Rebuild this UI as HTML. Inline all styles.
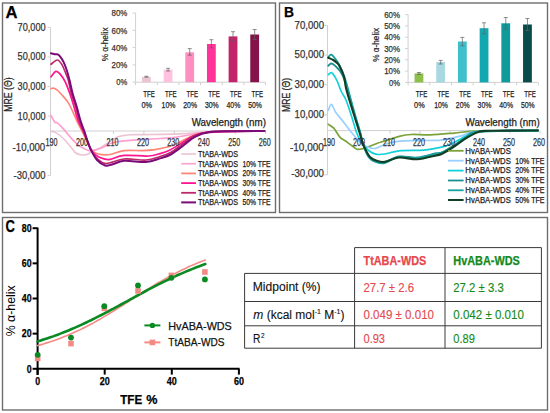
<!DOCTYPE html>
<html><head><meta charset="utf-8"><style>
html,body{margin:0;padding:0;background:#fff;width:550px;height:413px;overflow:hidden}
svg{display:block}
text{font-family:"Liberation Sans", sans-serif}
</style></head><body>
<svg width="550" height="413" viewBox="0 0 550 413">
<rect x="0" y="0" width="550" height="413" fill="#fff"/>
<rect x="2.50" y="3.00" width="273.00" height="209.50" fill="none" stroke="#6e6e6e" stroke-width="1.40"/>
<rect x="279.50" y="3.00" width="268.00" height="209.50" fill="none" stroke="#6e6e6e" stroke-width="1.40"/>
<rect x="2.50" y="217.50" width="545.00" height="192.50" fill="none" stroke="#6e6e6e" stroke-width="1.40"/>
<text x="5.50" y="17.50" font-size="16.00" text-anchor="start" fill="#000" stroke="#000" stroke-width="0.25" font-weight="bold" textLength="12.00" lengthAdjust="spacingAndGlyphs" >A</text>
<text x="284.00" y="16.50" font-size="15.00" text-anchor="start" fill="#000" stroke="#000" stroke-width="0.25" font-weight="bold" textLength="10.00" lengthAdjust="spacingAndGlyphs" >B</text>
<text x="5.40" y="232.30" font-size="16.50" text-anchor="start" fill="#000" stroke="#000" stroke-width="0.25" font-weight="bold" textLength="9.40" lengthAdjust="spacingAndGlyphs" >C</text>
<line x1="50.50" y1="27.40" x2="50.50" y2="175.40" stroke="#d0d0d0" stroke-width="1.00"/>
<line x1="47.50" y1="27.40" x2="50.50" y2="27.40" stroke="#d0d0d0" stroke-width="1.00"/>
<text x="45.60" y="30.65" font-size="10.80" text-anchor="end" fill="#333333" stroke="#333333" stroke-width="0.25" font-weight="normal" textLength="28.00" lengthAdjust="spacingAndGlyphs" >70,000</text>
<line x1="47.50" y1="57.00" x2="50.50" y2="57.00" stroke="#d0d0d0" stroke-width="1.00"/>
<text x="45.60" y="59.60" font-size="10.80" text-anchor="end" fill="#333333" stroke="#333333" stroke-width="0.25" font-weight="normal" textLength="28.00" lengthAdjust="spacingAndGlyphs" >50,000</text>
<line x1="47.50" y1="86.60" x2="50.50" y2="86.60" stroke="#d0d0d0" stroke-width="1.00"/>
<text x="45.60" y="90.30" font-size="10.80" text-anchor="end" fill="#333333" stroke="#333333" stroke-width="0.25" font-weight="normal" textLength="28.00" lengthAdjust="spacingAndGlyphs" >30,000</text>
<line x1="47.50" y1="116.20" x2="50.50" y2="116.20" stroke="#d0d0d0" stroke-width="1.00"/>
<text x="45.60" y="120.00" font-size="10.80" text-anchor="end" fill="#333333" stroke="#333333" stroke-width="0.25" font-weight="normal" textLength="28.00" lengthAdjust="spacingAndGlyphs" >10,000</text>
<line x1="47.50" y1="145.80" x2="50.50" y2="145.80" stroke="#d0d0d0" stroke-width="1.00"/>
<text x="45.20" y="150.70" font-size="10.80" text-anchor="end" fill="#333333" stroke="#333333" stroke-width="0.25" font-weight="normal" textLength="32.60" lengthAdjust="spacingAndGlyphs" >-10,000</text>
<line x1="47.50" y1="175.40" x2="50.50" y2="175.40" stroke="#d0d0d0" stroke-width="1.00"/>
<text x="45.60" y="178.70" font-size="10.80" text-anchor="end" fill="#333333" stroke="#333333" stroke-width="0.25" font-weight="normal" textLength="32.00" lengthAdjust="spacingAndGlyphs" >-30,000</text>
<line x1="50.50" y1="131.00" x2="265.00" y2="131.00" stroke="#d0d0d0" stroke-width="1.00"/>
<line x1="83.04" y1="131.00" x2="83.04" y2="134.00" stroke="#d0d0d0" stroke-width="1.00"/>
<line x1="113.48" y1="131.00" x2="113.48" y2="134.00" stroke="#d0d0d0" stroke-width="1.00"/>
<line x1="143.92" y1="131.00" x2="143.92" y2="134.00" stroke="#d0d0d0" stroke-width="1.00"/>
<line x1="174.36" y1="131.00" x2="174.36" y2="134.00" stroke="#d0d0d0" stroke-width="1.00"/>
<line x1="204.80" y1="131.00" x2="204.80" y2="134.00" stroke="#d0d0d0" stroke-width="1.00"/>
<line x1="235.24" y1="131.00" x2="235.24" y2="134.00" stroke="#d0d0d0" stroke-width="1.00"/>
<line x1="265.68" y1="131.00" x2="265.68" y2="134.00" stroke="#d0d0d0" stroke-width="1.00"/>
<path d="M51.00,131.20 C51.72,131.40 53.78,131.68 55.30,132.40 C56.82,133.12 58.28,133.98 60.10,135.50 C61.92,137.02 64.18,139.28 66.20,141.50 C68.22,143.72 70.58,146.88 72.20,148.80 C73.82,150.72 74.48,152.00 75.90,153.00 C77.32,154.00 79.00,154.50 80.70,154.80 C82.40,155.10 84.38,155.20 86.10,154.80 C87.82,154.40 89.38,153.20 91.00,152.40 C92.62,151.60 94.30,150.70 95.80,150.00 C97.30,149.30 98.30,149.17 100.00,148.20 C101.70,147.23 102.98,146.12 106.00,144.20 C109.02,142.28 114.07,138.27 118.10,136.70 C122.13,135.13 125.75,135.15 130.20,134.80 C134.65,134.45 136.63,134.75 144.80,134.60 C152.97,134.45 169.43,134.32 179.20,133.90 C188.97,133.48 194.93,132.53 203.40,132.10 C211.87,131.67 219.82,131.48 230.00,131.30 C240.18,131.12 258.75,131.05 264.50,131.00" fill="none" stroke="#ecc3d4" stroke-width="1.60" stroke-linejoin="round" stroke-linecap="round" />
<path d="M51.00,115.50 C51.62,116.60 53.58,120.83 54.70,122.10 C55.82,123.37 56.18,121.88 57.70,123.10 C59.22,124.32 61.58,126.93 63.80,129.40 C66.02,131.87 68.58,135.27 71.00,137.90 C73.42,140.53 76.07,143.38 78.30,145.20 C80.53,147.02 82.62,147.90 84.40,148.80 C86.18,149.70 87.50,150.33 89.00,150.60 C90.50,150.87 91.47,150.82 93.40,150.40 C95.33,149.98 98.67,148.78 100.60,148.10 C102.53,147.42 103.10,147.15 105.00,146.30 C106.90,145.45 108.80,143.90 112.00,143.00 C115.20,142.10 116.20,141.65 124.20,140.90 C132.20,140.15 151.85,139.07 160.00,138.50 C168.15,137.93 168.90,137.97 173.10,137.50 C177.30,137.03 180.15,136.50 185.20,135.70 C190.25,134.90 195.93,133.43 203.40,132.70 C210.87,131.97 219.82,131.58 230.00,131.30 C240.18,131.02 258.75,131.05 264.50,131.00" fill="none" stroke="#ff9fd0" stroke-width="1.70" stroke-linejoin="round" stroke-linecap="round" />
<path d="M51.00,88.80 C51.37,88.68 52.20,87.93 53.20,88.10 C54.20,88.27 55.65,88.78 57.00,89.80 C58.35,90.82 59.43,92.05 61.30,94.20 C63.17,96.35 66.05,99.27 68.20,102.70 C70.35,106.13 72.57,111.33 74.20,114.80 C75.83,118.27 76.68,120.77 78.00,123.50 C79.32,126.23 80.72,128.45 82.10,131.20 C83.48,133.95 84.78,136.95 86.30,140.00 C87.82,143.05 89.58,147.28 91.20,149.50 C92.82,151.72 94.20,152.45 96.00,153.30 C97.80,154.15 99.67,154.40 102.00,154.60 C104.33,154.80 106.30,155.17 110.00,154.50 C113.70,153.83 118.82,151.25 124.20,150.60 C129.58,149.95 137.17,150.77 142.30,150.60 C147.43,150.43 150.47,150.27 155.00,149.60 C159.53,148.93 165.47,147.80 169.50,146.60 C173.53,145.40 175.57,144.12 179.20,142.40 C182.83,140.68 187.27,137.92 191.30,136.30 C195.33,134.68 196.95,133.53 203.40,132.70 C209.85,131.87 219.82,131.58 230.00,131.30 C240.18,131.02 258.75,131.05 264.50,131.00" fill="none" stroke="#ff8577" stroke-width="1.60" stroke-linejoin="round" stroke-linecap="round" />
<path d="M51.00,76.80 C51.82,75.90 54.38,71.85 55.90,71.40 C57.42,70.95 58.58,72.43 60.10,74.10 C61.62,75.77 63.38,78.17 65.00,81.40 C66.62,84.63 68.33,89.40 69.80,93.50 C71.27,97.60 72.45,101.58 73.80,106.00 C75.15,110.42 76.35,115.80 77.90,120.00 C79.45,124.20 81.62,127.87 83.10,131.20 C84.58,134.53 85.45,136.82 86.80,140.00 C88.15,143.18 89.50,147.63 91.20,150.30 C92.90,152.97 94.87,154.58 97.00,156.00 C99.13,157.42 101.83,158.23 104.00,158.80 C106.17,159.37 106.63,159.97 110.00,159.40 C113.37,158.83 117.80,155.97 124.20,155.40 C130.60,154.83 142.43,156.30 148.40,156.00 C154.37,155.70 156.48,154.57 160.00,153.60 C163.52,152.63 165.90,151.97 169.50,150.20 C173.10,148.43 177.57,145.42 181.60,143.00 C185.63,140.58 189.67,137.42 193.70,135.70 C197.73,133.98 199.75,133.43 205.80,132.70 C211.85,131.97 220.22,131.58 230.00,131.30 C239.78,131.02 258.75,131.05 264.50,131.00" fill="none" stroke="#ff1491" stroke-width="1.75" stroke-linejoin="round" stroke-linecap="round" />
<path d="M51.00,64.30 C52.05,63.58 55.48,59.95 57.30,60.00 C59.12,60.05 60.48,62.35 61.90,64.60 C63.32,66.85 64.73,70.93 65.80,73.50 C66.87,76.07 67.40,76.75 68.30,80.00 C69.20,83.25 70.00,88.67 71.20,93.00 C72.40,97.33 74.17,101.50 75.50,106.00 C76.83,110.50 77.82,115.80 79.20,120.00 C80.58,124.20 82.52,127.87 83.80,131.20 C85.08,134.53 85.67,136.82 86.90,140.00 C88.13,143.18 89.52,147.22 91.20,150.30 C92.88,153.38 94.53,156.30 97.00,158.50 C99.47,160.70 101.47,163.42 106.00,163.50 C110.53,163.58 117.53,159.58 124.20,159.00 C130.87,158.42 140.03,160.42 146.00,160.00 C151.97,159.58 155.88,157.75 160.00,156.50 C164.12,155.25 166.90,154.58 170.70,152.50 C174.50,150.42 178.77,146.83 182.80,144.00 C186.83,141.17 190.47,137.53 194.90,135.50 C199.33,133.47 203.55,132.50 209.40,131.80 C215.25,131.10 220.82,131.43 230.00,131.30 C239.18,131.17 258.75,131.05 264.50,131.00" fill="none" stroke="#c0286a" stroke-width="1.70" stroke-linejoin="round" stroke-linecap="round" />
<path d="M51.00,53.30 C51.67,53.45 53.88,54.02 55.00,54.20 C56.12,54.38 56.80,53.95 57.70,54.40 C58.60,54.85 59.43,55.65 60.40,56.90 C61.37,58.15 62.47,59.77 63.50,61.90 C64.53,64.03 65.60,66.68 66.60,69.70 C67.60,72.72 68.50,76.03 69.50,80.00 C70.50,83.97 71.43,89.17 72.60,93.50 C73.77,97.83 75.22,101.58 76.50,106.00 C77.78,110.42 79.00,115.80 80.30,120.00 C81.60,124.20 83.15,127.87 84.30,131.20 C85.45,134.53 86.05,136.82 87.20,140.00 C88.35,143.18 89.57,146.97 91.20,150.30 C92.83,153.63 94.67,157.47 97.00,160.00 C99.33,162.53 102.70,164.75 105.20,165.50 C107.70,166.25 108.83,165.28 112.00,164.50 C115.17,163.72 118.53,161.22 124.20,160.80 C129.87,160.38 140.03,162.40 146.00,162.00 C151.97,161.60 155.88,159.65 160.00,158.40 C164.12,157.15 166.90,156.57 170.70,154.50 C174.50,152.43 178.77,148.93 182.80,146.00 C186.83,143.07 190.47,139.22 194.90,136.90 C199.33,134.58 203.55,133.05 209.40,132.10 C215.25,131.15 220.82,131.38 230.00,131.20 C239.18,131.02 258.75,131.03 264.50,131.00" fill="none" stroke="#7a0c7a" stroke-width="2.00" stroke-linejoin="round" stroke-linecap="round" />
<text x="51.60" y="146.10" font-size="10.60" text-anchor="middle" fill="#333333" stroke="#333333" stroke-width="0.25" font-weight="normal" textLength="12.00" lengthAdjust="spacingAndGlyphs" >190</text>
<text x="82.04" y="146.10" font-size="10.60" text-anchor="middle" fill="#333333" stroke="#333333" stroke-width="0.25" font-weight="normal" textLength="12.00" lengthAdjust="spacingAndGlyphs" >200</text>
<text x="112.48" y="146.10" font-size="10.60" text-anchor="middle" fill="#333333" stroke="#333333" stroke-width="0.25" font-weight="normal" textLength="12.00" lengthAdjust="spacingAndGlyphs" >210</text>
<text x="142.92" y="146.10" font-size="10.60" text-anchor="middle" fill="#333333" stroke="#333333" stroke-width="0.25" font-weight="normal" textLength="12.00" lengthAdjust="spacingAndGlyphs" >220</text>
<text x="173.36" y="146.10" font-size="10.60" text-anchor="middle" fill="#333333" stroke="#333333" stroke-width="0.25" font-weight="normal" textLength="12.00" lengthAdjust="spacingAndGlyphs" >230</text>
<text x="203.80" y="146.10" font-size="10.60" text-anchor="middle" fill="#333333" stroke="#333333" stroke-width="0.25" font-weight="normal" textLength="12.00" lengthAdjust="spacingAndGlyphs" >240</text>
<text x="234.24" y="146.10" font-size="10.60" text-anchor="middle" fill="#333333" stroke="#333333" stroke-width="0.25" font-weight="normal" textLength="12.00" lengthAdjust="spacingAndGlyphs" >250</text>
<text x="264.68" y="146.10" font-size="10.60" text-anchor="middle" fill="#333333" stroke="#333333" stroke-width="0.25" font-weight="normal" textLength="12.00" lengthAdjust="spacingAndGlyphs" >260</text>
<text x="191.70" y="126.40" font-size="10.20" text-anchor="start" fill="#222" stroke="#222" stroke-width="0.25" font-weight="normal" textLength="74.20" lengthAdjust="spacingAndGlyphs" >Wavelength (nm)</text>
<text transform="translate(12.40,94.60) rotate(-90)" font-size="10.6" text-anchor="middle" fill="#222" stroke="#222" stroke-width="0.25" textLength="34.50" lengthAdjust="spacingAndGlyphs">MRE (&#920;)</text>
<line x1="181.20" y1="154.00" x2="196.00" y2="154.00" stroke="#ecc3d4" stroke-width="1.60"/>
<text x="198.00" y="156.80" font-size="8.20" text-anchor="start" fill="#222" stroke="#222" stroke-width="0.25" font-weight="normal" textLength="40.00" lengthAdjust="spacingAndGlyphs" >TtABA-WDS</text>
<line x1="181.20" y1="163.70" x2="196.00" y2="163.70" stroke="#ff9fd0" stroke-width="1.60"/>
<text x="198.00" y="166.50" font-size="8.20" text-anchor="start" fill="#222" stroke="#222" stroke-width="0.25" font-weight="normal" textLength="40.00" lengthAdjust="spacingAndGlyphs" >TtABA-WDS</text>
<text x="242.40" y="166.50" font-size="8.20" text-anchor="start" fill="#222" stroke="#222" stroke-width="0.25" font-weight="normal" textLength="28.20" lengthAdjust="spacingAndGlyphs" >10% TFE</text>
<line x1="181.20" y1="173.40" x2="196.00" y2="173.40" stroke="#ff8577" stroke-width="1.80"/>
<text x="198.00" y="176.20" font-size="8.20" text-anchor="start" fill="#222" stroke="#222" stroke-width="0.25" font-weight="normal" textLength="40.00" lengthAdjust="spacingAndGlyphs" >TtABA-WDS</text>
<text x="242.40" y="176.20" font-size="8.20" text-anchor="start" fill="#222" stroke="#222" stroke-width="0.25" font-weight="normal" textLength="28.20" lengthAdjust="spacingAndGlyphs" >20% TFE</text>
<line x1="181.20" y1="183.10" x2="196.00" y2="183.10" stroke="#ff1491" stroke-width="1.80"/>
<text x="198.00" y="185.90" font-size="8.20" text-anchor="start" fill="#222" stroke="#222" stroke-width="0.25" font-weight="normal" textLength="40.00" lengthAdjust="spacingAndGlyphs" >TtABA-WDS</text>
<text x="242.40" y="185.90" font-size="8.20" text-anchor="start" fill="#222" stroke="#222" stroke-width="0.25" font-weight="normal" textLength="28.20" lengthAdjust="spacingAndGlyphs" >30% TFE</text>
<line x1="181.20" y1="192.80" x2="196.00" y2="192.80" stroke="#c0286a" stroke-width="1.80"/>
<text x="198.00" y="195.60" font-size="8.20" text-anchor="start" fill="#222" stroke="#222" stroke-width="0.25" font-weight="normal" textLength="40.00" lengthAdjust="spacingAndGlyphs" >TtABA-WDS</text>
<text x="242.40" y="195.60" font-size="8.20" text-anchor="start" fill="#222" stroke="#222" stroke-width="0.25" font-weight="normal" textLength="28.20" lengthAdjust="spacingAndGlyphs" >40% TFE</text>
<line x1="181.20" y1="202.40" x2="196.00" y2="202.40" stroke="#7a0c7a" stroke-width="2.00"/>
<text x="198.00" y="205.20" font-size="8.20" text-anchor="start" fill="#222" stroke="#222" stroke-width="0.25" font-weight="normal" textLength="40.00" lengthAdjust="spacingAndGlyphs" >TtABA-WDS</text>
<text x="242.40" y="205.20" font-size="8.20" text-anchor="start" fill="#222" stroke="#222" stroke-width="0.25" font-weight="normal" textLength="28.20" lengthAdjust="spacingAndGlyphs" >50% TFE</text>
<line x1="327.50" y1="25.40" x2="327.50" y2="174.80" stroke="#d0d0d0" stroke-width="1.00"/>
<line x1="324.50" y1="25.40" x2="327.50" y2="25.40" stroke="#d0d0d0" stroke-width="1.00"/>
<text x="324.00" y="28.80" font-size="10.80" text-anchor="end" fill="#333333" stroke="#333333" stroke-width="0.25" font-weight="normal" textLength="29.40" lengthAdjust="spacingAndGlyphs" >70,000</text>
<line x1="324.50" y1="55.10" x2="327.50" y2="55.10" stroke="#d0d0d0" stroke-width="1.00"/>
<text x="324.00" y="57.60" font-size="10.80" text-anchor="end" fill="#333333" stroke="#333333" stroke-width="0.25" font-weight="normal" textLength="29.40" lengthAdjust="spacingAndGlyphs" >50,000</text>
<line x1="324.50" y1="84.60" x2="327.50" y2="84.60" stroke="#d0d0d0" stroke-width="1.00"/>
<text x="324.00" y="87.90" font-size="10.80" text-anchor="end" fill="#333333" stroke="#333333" stroke-width="0.25" font-weight="normal" textLength="29.40" lengthAdjust="spacingAndGlyphs" >30,000</text>
<line x1="324.50" y1="115.00" x2="327.50" y2="115.00" stroke="#d0d0d0" stroke-width="1.00"/>
<text x="324.00" y="118.40" font-size="10.80" text-anchor="end" fill="#333333" stroke="#333333" stroke-width="0.25" font-weight="normal" textLength="29.40" lengthAdjust="spacingAndGlyphs" >10,000</text>
<line x1="324.50" y1="145.20" x2="327.50" y2="145.20" stroke="#d0d0d0" stroke-width="1.00"/>
<text x="323.80" y="150.50" font-size="10.80" text-anchor="end" fill="#333333" stroke="#333333" stroke-width="0.25" font-weight="normal" textLength="33.80" lengthAdjust="spacingAndGlyphs" >-10,000</text>
<line x1="324.50" y1="174.80" x2="327.50" y2="174.80" stroke="#d0d0d0" stroke-width="1.00"/>
<text x="324.00" y="176.90" font-size="10.80" text-anchor="end" fill="#333333" stroke="#333333" stroke-width="0.25" font-weight="normal" textLength="32.80" lengthAdjust="spacingAndGlyphs" >-30,000</text>
<line x1="327.50" y1="130.60" x2="538.00" y2="130.60" stroke="#d0d0d0" stroke-width="1.00"/>
<line x1="360.00" y1="130.60" x2="360.00" y2="133.60" stroke="#d0d0d0" stroke-width="1.00"/>
<line x1="390.00" y1="130.60" x2="390.00" y2="133.60" stroke="#d0d0d0" stroke-width="1.00"/>
<line x1="420.00" y1="130.60" x2="420.00" y2="133.60" stroke="#d0d0d0" stroke-width="1.00"/>
<line x1="450.00" y1="130.60" x2="450.00" y2="133.60" stroke="#d0d0d0" stroke-width="1.00"/>
<line x1="480.00" y1="130.60" x2="480.00" y2="133.60" stroke="#d0d0d0" stroke-width="1.00"/>
<line x1="510.00" y1="130.60" x2="510.00" y2="133.60" stroke="#d0d0d0" stroke-width="1.00"/>
<line x1="540.00" y1="130.60" x2="540.00" y2="133.60" stroke="#d0d0d0" stroke-width="1.00"/>
<path d="M328.30,124.30 C329.08,124.83 331.88,126.60 333.00,127.50 C334.12,128.40 333.82,128.07 335.00,129.70 C336.18,131.33 338.40,135.47 340.10,137.30 C341.80,139.13 343.22,139.28 345.20,140.70 C347.18,142.12 350.03,144.38 352.00,145.80 C353.97,147.22 355.32,148.70 357.00,149.20 C358.68,149.70 360.12,149.23 362.10,148.80 C364.08,148.37 366.35,147.53 368.90,146.60 C371.45,145.67 374.72,144.15 377.40,143.20 C380.08,142.25 381.37,142.05 385.00,140.90 C388.63,139.75 394.82,137.37 399.20,136.30 C403.58,135.23 406.17,134.75 411.30,134.50 C416.43,134.25 422.85,135.03 430.00,134.80 C437.15,134.57 446.13,133.75 454.20,133.10 C462.27,132.45 464.43,131.33 478.40,130.90 C492.37,130.47 528.07,130.57 538.00,130.50" fill="none" stroke="#7ba33a" stroke-width="1.70" stroke-linejoin="round" stroke-linecap="round" />
<path d="M328.30,110.40 C328.82,109.40 330.17,104.10 331.40,104.40 C332.63,104.70 333.68,109.27 335.70,112.20 C337.72,115.13 340.78,118.53 343.50,122.00 C346.22,125.47 349.18,129.60 352.00,133.00 C354.82,136.40 357.58,139.98 360.40,142.40 C363.22,144.82 366.35,146.52 368.90,147.50 C371.45,148.48 372.67,148.95 375.70,148.30 C378.73,147.65 383.18,144.78 387.10,143.60 C391.02,142.42 394.17,141.70 399.20,141.20 C404.23,140.70 411.33,140.73 417.30,140.60 C423.27,140.47 430.87,140.53 435.00,140.40 C439.13,140.27 437.90,140.50 442.10,139.80 C446.30,139.10 454.15,137.62 460.20,136.20 C466.25,134.78 465.43,132.25 478.40,131.30 C491.37,130.35 528.07,130.63 538.00,130.50" fill="none" stroke="#9ad0ff" stroke-width="1.70" stroke-linejoin="round" stroke-linecap="round" />
<path d="M328.30,74.70 C328.82,74.35 330.32,72.28 331.40,72.60 C332.48,72.92 333.70,74.87 334.80,76.60 C335.90,78.33 336.97,80.60 338.00,83.00 C339.03,85.40 339.67,88.17 341.00,91.00 C342.33,93.83 344.25,95.83 346.00,100.00 C347.75,104.17 349.83,110.83 351.50,116.00 C353.17,121.17 354.67,127.17 356.00,131.00 C357.33,134.83 358.33,136.75 359.50,139.00 C360.67,141.25 361.43,142.53 363.00,144.50 C364.57,146.47 366.78,149.18 368.90,150.80 C371.02,152.42 373.02,153.67 375.70,154.20 C378.38,154.73 381.08,154.57 385.00,154.00 C388.92,153.43 392.80,151.43 399.20,150.80 C405.60,150.17 417.43,150.60 423.40,150.20 C429.37,149.80 430.88,149.23 435.00,148.40 C439.12,147.57 443.90,146.73 448.10,145.20 C452.30,143.67 456.17,141.22 460.20,139.20 C464.23,137.18 467.33,134.47 472.30,133.10 C477.27,131.73 479.05,131.43 490.00,131.00 C500.95,130.57 530.00,130.58 538.00,130.50" fill="none" stroke="#10d0d8" stroke-width="1.70" stroke-linejoin="round" stroke-linecap="round" />
<path d="M328.30,65.80 C328.82,65.42 330.18,63.43 331.40,63.50 C332.62,63.57 334.17,64.95 335.60,66.20 C337.03,67.45 338.77,69.32 340.00,71.00 C341.23,72.68 341.83,73.47 343.00,76.30 C344.17,79.13 345.75,84.05 347.00,88.00 C348.25,91.95 349.08,95.00 350.50,100.00 C351.92,105.00 353.88,112.50 355.50,118.00 C357.12,123.50 358.95,128.67 360.20,133.00 C361.45,137.33 361.62,140.08 363.00,144.00 C364.38,147.92 366.38,153.68 368.50,156.50 C370.62,159.32 373.00,159.98 375.70,160.90 C378.40,161.82 380.78,162.73 384.70,162.00 C388.62,161.27 393.77,157.25 399.20,156.50 C404.63,155.75 411.33,158.00 417.30,157.50 C423.27,157.00 430.87,154.37 435.00,153.50 C439.13,152.63 438.90,153.67 442.10,152.30 C445.30,150.93 450.17,147.80 454.20,145.30 C458.23,142.80 462.27,139.58 466.30,137.30 C470.33,135.02 466.45,132.73 478.40,131.60 C490.35,130.47 528.07,130.68 538.00,130.50" fill="none" stroke="#1a9090" stroke-width="1.80" stroke-linejoin="round" stroke-linecap="round" />
<path d="M328.30,57.30 C328.82,56.85 329.98,54.02 331.40,54.60 C332.82,55.18 335.45,58.98 336.80,60.80 C338.15,62.62 338.27,62.92 339.50,65.50 C340.73,68.08 342.82,72.55 344.20,76.30 C345.58,80.05 346.67,84.05 347.80,88.00 C348.93,91.95 349.63,95.00 351.00,100.00 C352.37,105.00 354.42,112.50 356.00,118.00 C357.58,123.50 359.33,128.67 360.50,133.00 C361.67,137.33 361.60,139.90 363.00,144.00 C364.40,148.10 366.78,154.62 368.90,157.60 C371.02,160.58 373.07,161.00 375.70,161.90 C378.33,162.80 380.78,163.83 384.70,163.00 C388.62,162.17 393.77,157.72 399.20,156.90 C404.63,156.08 411.33,158.60 417.30,158.10 C423.27,157.60 430.87,154.83 435.00,153.90 C439.13,152.97 438.90,153.90 442.10,152.50 C445.30,151.10 450.17,148.00 454.20,145.50 C458.23,143.00 462.27,139.80 466.30,137.50 C470.33,135.20 466.45,132.87 478.40,131.70 C490.35,130.53 528.07,130.70 538.00,130.50" fill="none" stroke="#17a0a0" stroke-width="1.80" stroke-linejoin="round" stroke-linecap="round" />
<path d="M328.30,57.70 C329.13,58.08 331.88,59.17 333.30,60.00 C334.72,60.83 335.77,61.70 336.80,62.70 C337.83,63.70 338.30,63.70 339.50,66.00 C340.70,68.30 342.92,72.83 344.00,76.50 C345.08,80.17 345.10,84.08 346.00,88.00 C346.90,91.92 347.90,95.00 349.40,100.00 C350.90,105.00 353.23,112.33 355.00,118.00 C356.77,123.67 358.67,129.67 360.00,134.00 C361.33,138.33 361.92,141.08 363.00,144.00 C364.08,146.92 365.23,149.23 366.50,151.50 C367.77,153.77 368.78,156.02 370.60,157.60 C372.42,159.18 375.05,160.28 377.40,161.00 C379.75,161.72 381.07,162.48 384.70,161.90 C388.33,161.32 393.77,157.93 399.20,157.50 C404.63,157.07 411.33,159.60 417.30,159.30 C423.27,159.00 430.87,156.63 435.00,155.70 C439.13,154.77 438.90,155.23 442.10,153.70 C445.30,152.17 450.17,149.12 454.20,146.50 C458.23,143.88 462.27,140.43 466.30,138.00 C470.33,135.57 474.45,133.10 478.40,131.90 C482.35,130.70 480.07,131.03 490.00,130.80 C499.93,130.57 530.00,130.55 538.00,130.50" fill="none" stroke="#123e25" stroke-width="2.10" stroke-linejoin="round" stroke-linecap="round" />
<text x="329.00" y="145.70" font-size="10.60" text-anchor="middle" fill="#333333" stroke="#333333" stroke-width="0.25" font-weight="normal" textLength="12.00" lengthAdjust="spacingAndGlyphs" >190</text>
<text x="359.00" y="145.70" font-size="10.60" text-anchor="middle" fill="#333333" stroke="#333333" stroke-width="0.25" font-weight="normal" textLength="12.00" lengthAdjust="spacingAndGlyphs" >200</text>
<text x="389.00" y="145.70" font-size="10.60" text-anchor="middle" fill="#333333" stroke="#333333" stroke-width="0.25" font-weight="normal" textLength="12.00" lengthAdjust="spacingAndGlyphs" >210</text>
<text x="419.00" y="145.70" font-size="10.60" text-anchor="middle" fill="#333333" stroke="#333333" stroke-width="0.25" font-weight="normal" textLength="12.00" lengthAdjust="spacingAndGlyphs" >220</text>
<text x="449.00" y="145.70" font-size="10.60" text-anchor="middle" fill="#333333" stroke="#333333" stroke-width="0.25" font-weight="normal" textLength="12.00" lengthAdjust="spacingAndGlyphs" >230</text>
<text x="479.00" y="145.70" font-size="10.60" text-anchor="middle" fill="#333333" stroke="#333333" stroke-width="0.25" font-weight="normal" textLength="12.00" lengthAdjust="spacingAndGlyphs" >240</text>
<text x="509.00" y="145.70" font-size="10.60" text-anchor="middle" fill="#333333" stroke="#333333" stroke-width="0.25" font-weight="normal" textLength="12.00" lengthAdjust="spacingAndGlyphs" >250</text>
<text x="539.00" y="145.70" font-size="10.60" text-anchor="middle" fill="#333333" stroke="#333333" stroke-width="0.25" font-weight="normal" textLength="12.00" lengthAdjust="spacingAndGlyphs" >260</text>
<text x="465.50" y="126.00" font-size="10.20" text-anchor="start" fill="#222" stroke="#222" stroke-width="0.25" font-weight="normal" textLength="74.20" lengthAdjust="spacingAndGlyphs" >Wavelength (nm)</text>
<text transform="translate(289.80,95.00) rotate(-90)" font-size="10.6" text-anchor="middle" fill="#222" stroke="#222" stroke-width="0.25" textLength="34.00" lengthAdjust="spacingAndGlyphs">MRE (&#920;)</text>
<line x1="448.00" y1="150.80" x2="463.60" y2="150.80" stroke="#7ba33a" stroke-width="1.80"/>
<text x="465.30" y="153.60" font-size="8.20" text-anchor="start" fill="#222" stroke="#222" stroke-width="0.25" font-weight="normal" textLength="45.50" lengthAdjust="spacingAndGlyphs" >HvABA-WDS</text>
<line x1="448.00" y1="160.70" x2="463.60" y2="160.70" stroke="#9ad0ff" stroke-width="1.80"/>
<text x="465.30" y="163.50" font-size="8.20" text-anchor="start" fill="#222" stroke="#222" stroke-width="0.25" font-weight="normal" textLength="45.50" lengthAdjust="spacingAndGlyphs" >HvABA-WDS</text>
<text x="515.20" y="163.50" font-size="8.20" text-anchor="start" fill="#222" stroke="#222" stroke-width="0.25" font-weight="normal" textLength="29.40" lengthAdjust="spacingAndGlyphs" >10% TFE</text>
<line x1="448.00" y1="170.60" x2="463.60" y2="170.60" stroke="#10d0d8" stroke-width="1.80"/>
<text x="465.30" y="173.40" font-size="8.20" text-anchor="start" fill="#222" stroke="#222" stroke-width="0.25" font-weight="normal" textLength="45.50" lengthAdjust="spacingAndGlyphs" >HvABA-WDS</text>
<text x="515.20" y="173.40" font-size="8.20" text-anchor="start" fill="#222" stroke="#222" stroke-width="0.25" font-weight="normal" textLength="29.40" lengthAdjust="spacingAndGlyphs" >20% TFE</text>
<line x1="448.00" y1="180.50" x2="463.60" y2="180.50" stroke="#1a9090" stroke-width="1.80"/>
<text x="465.30" y="183.30" font-size="8.20" text-anchor="start" fill="#222" stroke="#222" stroke-width="0.25" font-weight="normal" textLength="45.50" lengthAdjust="spacingAndGlyphs" >HvABA-WDS</text>
<text x="515.20" y="183.30" font-size="8.20" text-anchor="start" fill="#222" stroke="#222" stroke-width="0.25" font-weight="normal" textLength="29.40" lengthAdjust="spacingAndGlyphs" >30% TFE</text>
<line x1="448.00" y1="190.30" x2="463.60" y2="190.30" stroke="#17a0a0" stroke-width="1.80"/>
<text x="465.30" y="193.10" font-size="8.20" text-anchor="start" fill="#222" stroke="#222" stroke-width="0.25" font-weight="normal" textLength="45.50" lengthAdjust="spacingAndGlyphs" >HvABA-WDS</text>
<text x="515.20" y="193.10" font-size="8.20" text-anchor="start" fill="#222" stroke="#222" stroke-width="0.25" font-weight="normal" textLength="29.40" lengthAdjust="spacingAndGlyphs" >40% TFE</text>
<line x1="448.00" y1="200.00" x2="463.60" y2="200.00" stroke="#123e25" stroke-width="2.00"/>
<text x="465.30" y="202.80" font-size="8.20" text-anchor="start" fill="#222" stroke="#222" stroke-width="0.25" font-weight="normal" textLength="45.50" lengthAdjust="spacingAndGlyphs" >HvABA-WDS</text>
<text x="515.20" y="202.80" font-size="8.20" text-anchor="start" fill="#222" stroke="#222" stroke-width="0.25" font-weight="normal" textLength="29.40" lengthAdjust="spacingAndGlyphs" >50% TFE</text>
<line x1="135.60" y1="13.00" x2="135.60" y2="82.20" stroke="#d0d0d0" stroke-width="1.00"/>
<line x1="132.60" y1="82.20" x2="135.60" y2="82.20" stroke="#d0d0d0" stroke-width="1.00"/>
<text x="127.30" y="85.40" font-size="9.20" text-anchor="end" fill="#333333" stroke="#333333" stroke-width="0.25" font-weight="normal" textLength="11.00" lengthAdjust="spacingAndGlyphs" >0%</text>
<line x1="132.60" y1="64.90" x2="135.60" y2="64.90" stroke="#d0d0d0" stroke-width="1.00"/>
<text x="127.30" y="68.10" font-size="9.20" text-anchor="end" fill="#333333" stroke="#333333" stroke-width="0.25" font-weight="normal" textLength="15.80" lengthAdjust="spacingAndGlyphs" >20%</text>
<line x1="132.60" y1="47.60" x2="135.60" y2="47.60" stroke="#d0d0d0" stroke-width="1.00"/>
<text x="127.30" y="50.80" font-size="9.20" text-anchor="end" fill="#333333" stroke="#333333" stroke-width="0.25" font-weight="normal" textLength="15.80" lengthAdjust="spacingAndGlyphs" >40%</text>
<line x1="132.60" y1="30.30" x2="135.60" y2="30.30" stroke="#d0d0d0" stroke-width="1.00"/>
<text x="127.30" y="33.50" font-size="9.20" text-anchor="end" fill="#333333" stroke="#333333" stroke-width="0.25" font-weight="normal" textLength="15.80" lengthAdjust="spacingAndGlyphs" >60%</text>
<line x1="132.60" y1="13.00" x2="135.60" y2="13.00" stroke="#d0d0d0" stroke-width="1.00"/>
<text x="127.30" y="16.20" font-size="9.20" text-anchor="end" fill="#333333" stroke="#333333" stroke-width="0.25" font-weight="normal" textLength="15.80" lengthAdjust="spacingAndGlyphs" >80%</text>
<line x1="135.60" y1="82.20" x2="265.50" y2="82.20" stroke="#d0d0d0" stroke-width="1.00"/>
<line x1="135.60" y1="82.20" x2="135.60" y2="85.20" stroke="#d0d0d0" stroke-width="1.00"/>
<line x1="157.25" y1="82.20" x2="157.25" y2="85.20" stroke="#d0d0d0" stroke-width="1.00"/>
<line x1="178.90" y1="82.20" x2="178.90" y2="85.20" stroke="#d0d0d0" stroke-width="1.00"/>
<line x1="200.55" y1="82.20" x2="200.55" y2="85.20" stroke="#d0d0d0" stroke-width="1.00"/>
<line x1="222.20" y1="82.20" x2="222.20" y2="85.20" stroke="#d0d0d0" stroke-width="1.00"/>
<line x1="243.85" y1="82.20" x2="243.85" y2="85.20" stroke="#d0d0d0" stroke-width="1.00"/>
<line x1="265.50" y1="82.20" x2="265.50" y2="85.20" stroke="#d0d0d0" stroke-width="1.00"/>
<rect x="142.02" y="76.90" width="8.80" height="5.30" fill="#edc4d5" stroke="none" stroke-width="0.00"/>
<line x1="146.42" y1="76.30" x2="146.42" y2="77.20" stroke="#606060" stroke-width="0.70"/>
<line x1="144.42" y1="76.30" x2="148.42" y2="76.30" stroke="#606060" stroke-width="0.70"/>
<line x1="144.42" y1="77.20" x2="148.42" y2="77.20" stroke="#606060" stroke-width="0.70"/>
<text x="149.12" y="97.20" font-size="9.20" text-anchor="middle" fill="#222" stroke="#222" stroke-width="0.25" font-weight="normal" textLength="11.60" lengthAdjust="spacingAndGlyphs" >TFE</text>
<text x="146.82" y="108.10" font-size="9.20" text-anchor="middle" fill="#222" stroke="#222" stroke-width="0.25" font-weight="normal" textLength="10.60" lengthAdjust="spacingAndGlyphs" >0%</text>
<rect x="163.67" y="69.60" width="8.80" height="12.60" fill="#ffc2de" stroke="none" stroke-width="0.00"/>
<line x1="168.07" y1="68.30" x2="168.07" y2="71.00" stroke="#606060" stroke-width="0.70"/>
<line x1="166.07" y1="68.30" x2="170.07" y2="68.30" stroke="#606060" stroke-width="0.70"/>
<line x1="166.07" y1="71.00" x2="170.07" y2="71.00" stroke="#606060" stroke-width="0.70"/>
<text x="170.77" y="97.20" font-size="9.20" text-anchor="middle" fill="#222" stroke="#222" stroke-width="0.25" font-weight="normal" textLength="11.60" lengthAdjust="spacingAndGlyphs" >TFE</text>
<text x="168.47" y="108.10" font-size="9.20" text-anchor="middle" fill="#222" stroke="#222" stroke-width="0.25" font-weight="normal" textLength="13.80" lengthAdjust="spacingAndGlyphs" >10%</text>
<rect x="185.32" y="52.30" width="8.80" height="29.90" fill="#ff8fc0" stroke="none" stroke-width="0.00"/>
<line x1="189.72" y1="48.60" x2="189.72" y2="55.20" stroke="#606060" stroke-width="0.70"/>
<line x1="187.72" y1="48.60" x2="191.72" y2="48.60" stroke="#606060" stroke-width="0.70"/>
<line x1="187.72" y1="55.20" x2="191.72" y2="55.20" stroke="#606060" stroke-width="0.70"/>
<text x="192.42" y="97.20" font-size="9.20" text-anchor="middle" fill="#222" stroke="#222" stroke-width="0.25" font-weight="normal" textLength="11.60" lengthAdjust="spacingAndGlyphs" >TFE</text>
<text x="190.12" y="108.10" font-size="9.20" text-anchor="middle" fill="#222" stroke="#222" stroke-width="0.25" font-weight="normal" textLength="13.80" lengthAdjust="spacingAndGlyphs" >20%</text>
<rect x="206.97" y="44.00" width="8.80" height="38.20" fill="#ff3399" stroke="none" stroke-width="0.00"/>
<line x1="211.38" y1="39.70" x2="211.38" y2="47.90" stroke="#606060" stroke-width="0.70"/>
<line x1="209.38" y1="39.70" x2="213.38" y2="39.70" stroke="#606060" stroke-width="0.70"/>
<line x1="209.38" y1="47.90" x2="213.38" y2="47.90" stroke="#606060" stroke-width="0.70"/>
<text x="214.07" y="97.20" font-size="9.20" text-anchor="middle" fill="#222" stroke="#222" stroke-width="0.25" font-weight="normal" textLength="11.60" lengthAdjust="spacingAndGlyphs" >TFE</text>
<text x="211.78" y="108.10" font-size="9.20" text-anchor="middle" fill="#222" stroke="#222" stroke-width="0.25" font-weight="normal" textLength="13.80" lengthAdjust="spacingAndGlyphs" >30%</text>
<rect x="228.62" y="36.40" width="8.80" height="45.80" fill="#c2246a" stroke="none" stroke-width="0.00"/>
<line x1="233.02" y1="31.70" x2="233.02" y2="40.90" stroke="#606060" stroke-width="0.70"/>
<line x1="231.02" y1="31.70" x2="235.02" y2="31.70" stroke="#606060" stroke-width="0.70"/>
<line x1="231.02" y1="40.90" x2="235.02" y2="40.90" stroke="#606060" stroke-width="0.70"/>
<text x="235.72" y="97.20" font-size="9.20" text-anchor="middle" fill="#222" stroke="#222" stroke-width="0.25" font-weight="normal" textLength="11.60" lengthAdjust="spacingAndGlyphs" >TFE</text>
<text x="233.42" y="108.10" font-size="9.20" text-anchor="middle" fill="#222" stroke="#222" stroke-width="0.25" font-weight="normal" textLength="13.80" lengthAdjust="spacingAndGlyphs" >40%</text>
<rect x="250.27" y="34.50" width="8.80" height="47.70" fill="#84134a" stroke="none" stroke-width="0.00"/>
<line x1="254.67" y1="29.50" x2="254.67" y2="39.60" stroke="#606060" stroke-width="0.70"/>
<line x1="252.67" y1="29.50" x2="256.67" y2="29.50" stroke="#606060" stroke-width="0.70"/>
<line x1="252.67" y1="39.60" x2="256.67" y2="39.60" stroke="#606060" stroke-width="0.70"/>
<text x="257.38" y="97.20" font-size="9.20" text-anchor="middle" fill="#222" stroke="#222" stroke-width="0.25" font-weight="normal" textLength="11.60" lengthAdjust="spacingAndGlyphs" >TFE</text>
<text x="255.07" y="108.10" font-size="9.20" text-anchor="middle" fill="#222" stroke="#222" stroke-width="0.25" font-weight="normal" textLength="13.80" lengthAdjust="spacingAndGlyphs" >50%</text>
<text transform="translate(108.30,44.30) rotate(-90)" font-size="8.4" text-anchor="middle" fill="#222" stroke="#222" stroke-width="0.2" textLength="34.00" lengthAdjust="spacingAndGlyphs">% &#945;-helix</text>
<line x1="408.10" y1="14.60" x2="408.10" y2="82.40" stroke="#d0d0d0" stroke-width="1.00"/>
<line x1="405.10" y1="82.40" x2="408.10" y2="82.40" stroke="#d0d0d0" stroke-width="1.00"/>
<text x="400.00" y="85.60" font-size="9.20" text-anchor="end" fill="#333333" stroke="#333333" stroke-width="0.25" font-weight="normal" textLength="11.00" lengthAdjust="spacingAndGlyphs" >0%</text>
<line x1="405.10" y1="71.10" x2="408.10" y2="71.10" stroke="#d0d0d0" stroke-width="1.00"/>
<text x="400.00" y="74.30" font-size="9.20" text-anchor="end" fill="#333333" stroke="#333333" stroke-width="0.25" font-weight="normal" textLength="15.80" lengthAdjust="spacingAndGlyphs" >10%</text>
<line x1="405.10" y1="59.80" x2="408.10" y2="59.80" stroke="#d0d0d0" stroke-width="1.00"/>
<text x="400.00" y="63.00" font-size="9.20" text-anchor="end" fill="#333333" stroke="#333333" stroke-width="0.25" font-weight="normal" textLength="15.80" lengthAdjust="spacingAndGlyphs" >20%</text>
<line x1="405.10" y1="48.50" x2="408.10" y2="48.50" stroke="#d0d0d0" stroke-width="1.00"/>
<text x="400.00" y="51.70" font-size="9.20" text-anchor="end" fill="#333333" stroke="#333333" stroke-width="0.25" font-weight="normal" textLength="15.80" lengthAdjust="spacingAndGlyphs" >30%</text>
<line x1="405.10" y1="37.20" x2="408.10" y2="37.20" stroke="#d0d0d0" stroke-width="1.00"/>
<text x="400.00" y="40.40" font-size="9.20" text-anchor="end" fill="#333333" stroke="#333333" stroke-width="0.25" font-weight="normal" textLength="15.80" lengthAdjust="spacingAndGlyphs" >40%</text>
<line x1="405.10" y1="25.90" x2="408.10" y2="25.90" stroke="#d0d0d0" stroke-width="1.00"/>
<text x="400.00" y="29.10" font-size="9.20" text-anchor="end" fill="#333333" stroke="#333333" stroke-width="0.25" font-weight="normal" textLength="15.80" lengthAdjust="spacingAndGlyphs" >50%</text>
<line x1="405.10" y1="14.60" x2="408.10" y2="14.60" stroke="#d0d0d0" stroke-width="1.00"/>
<text x="400.00" y="17.80" font-size="9.20" text-anchor="end" fill="#333333" stroke="#333333" stroke-width="0.25" font-weight="normal" textLength="15.80" lengthAdjust="spacingAndGlyphs" >60%</text>
<line x1="408.10" y1="82.40" x2="538.30" y2="82.40" stroke="#d0d0d0" stroke-width="1.00"/>
<line x1="408.10" y1="82.40" x2="408.10" y2="85.40" stroke="#d0d0d0" stroke-width="1.00"/>
<line x1="429.80" y1="82.40" x2="429.80" y2="85.40" stroke="#d0d0d0" stroke-width="1.00"/>
<line x1="451.50" y1="82.40" x2="451.50" y2="85.40" stroke="#d0d0d0" stroke-width="1.00"/>
<line x1="473.20" y1="82.40" x2="473.20" y2="85.40" stroke="#d0d0d0" stroke-width="1.00"/>
<line x1="494.90" y1="82.40" x2="494.90" y2="85.40" stroke="#d0d0d0" stroke-width="1.00"/>
<line x1="516.60" y1="82.40" x2="516.60" y2="85.40" stroke="#d0d0d0" stroke-width="1.00"/>
<line x1="538.30" y1="82.40" x2="538.30" y2="85.40" stroke="#d0d0d0" stroke-width="1.00"/>
<rect x="414.55" y="73.40" width="8.80" height="9.00" fill="#8cc04a" stroke="none" stroke-width="0.00"/>
<line x1="418.95" y1="72.50" x2="418.95" y2="74.50" stroke="#606060" stroke-width="0.70"/>
<line x1="416.95" y1="72.50" x2="420.95" y2="72.50" stroke="#606060" stroke-width="0.70"/>
<line x1="416.95" y1="74.50" x2="420.95" y2="74.50" stroke="#606060" stroke-width="0.70"/>
<text x="421.65" y="97.40" font-size="9.20" text-anchor="middle" fill="#222" stroke="#222" stroke-width="0.25" font-weight="normal" textLength="11.60" lengthAdjust="spacingAndGlyphs" >TFE</text>
<text x="419.35" y="108.30" font-size="9.20" text-anchor="middle" fill="#222" stroke="#222" stroke-width="0.25" font-weight="normal" textLength="10.60" lengthAdjust="spacingAndGlyphs" >0%</text>
<rect x="436.25" y="62.00" width="8.80" height="20.40" fill="#a8d8e2" stroke="none" stroke-width="0.00"/>
<line x1="440.65" y1="60.40" x2="440.65" y2="64.00" stroke="#606060" stroke-width="0.70"/>
<line x1="438.65" y1="60.40" x2="442.65" y2="60.40" stroke="#606060" stroke-width="0.70"/>
<line x1="438.65" y1="64.00" x2="442.65" y2="64.00" stroke="#606060" stroke-width="0.70"/>
<text x="443.35" y="97.40" font-size="9.20" text-anchor="middle" fill="#222" stroke="#222" stroke-width="0.25" font-weight="normal" textLength="11.60" lengthAdjust="spacingAndGlyphs" >TFE</text>
<text x="441.05" y="108.30" font-size="9.20" text-anchor="middle" fill="#222" stroke="#222" stroke-width="0.25" font-weight="normal" textLength="13.80" lengthAdjust="spacingAndGlyphs" >10%</text>
<rect x="457.95" y="41.50" width="8.80" height="40.90" fill="#3fbfcc" stroke="none" stroke-width="0.00"/>
<line x1="462.35" y1="37.40" x2="462.35" y2="45.80" stroke="#606060" stroke-width="0.70"/>
<line x1="460.35" y1="37.40" x2="464.35" y2="37.40" stroke="#606060" stroke-width="0.70"/>
<line x1="460.35" y1="45.80" x2="464.35" y2="45.80" stroke="#606060" stroke-width="0.70"/>
<text x="465.05" y="97.40" font-size="9.20" text-anchor="middle" fill="#222" stroke="#222" stroke-width="0.25" font-weight="normal" textLength="11.60" lengthAdjust="spacingAndGlyphs" >TFE</text>
<text x="462.75" y="108.30" font-size="9.20" text-anchor="middle" fill="#222" stroke="#222" stroke-width="0.25" font-weight="normal" textLength="13.80" lengthAdjust="spacingAndGlyphs" >20%</text>
<rect x="479.65" y="28.20" width="8.80" height="54.20" fill="#13a8b0" stroke="none" stroke-width="0.00"/>
<line x1="484.05" y1="22.80" x2="484.05" y2="33.70" stroke="#606060" stroke-width="0.70"/>
<line x1="482.05" y1="22.80" x2="486.05" y2="22.80" stroke="#606060" stroke-width="0.70"/>
<line x1="482.05" y1="33.70" x2="486.05" y2="33.70" stroke="#606060" stroke-width="0.70"/>
<text x="486.75" y="97.40" font-size="9.20" text-anchor="middle" fill="#222" stroke="#222" stroke-width="0.25" font-weight="normal" textLength="11.60" lengthAdjust="spacingAndGlyphs" >TFE</text>
<text x="484.45" y="108.30" font-size="9.20" text-anchor="middle" fill="#222" stroke="#222" stroke-width="0.25" font-weight="normal" textLength="13.80" lengthAdjust="spacingAndGlyphs" >30%</text>
<rect x="501.35" y="23.30" width="8.80" height="59.10" fill="#109a9a" stroke="none" stroke-width="0.00"/>
<line x1="505.75" y1="17.50" x2="505.75" y2="29.00" stroke="#606060" stroke-width="0.70"/>
<line x1="503.75" y1="17.50" x2="507.75" y2="17.50" stroke="#606060" stroke-width="0.70"/>
<line x1="503.75" y1="29.00" x2="507.75" y2="29.00" stroke="#606060" stroke-width="0.70"/>
<text x="508.45" y="97.40" font-size="9.20" text-anchor="middle" fill="#222" stroke="#222" stroke-width="0.25" font-weight="normal" textLength="11.60" lengthAdjust="spacingAndGlyphs" >TFE</text>
<text x="506.15" y="108.30" font-size="9.20" text-anchor="middle" fill="#222" stroke="#222" stroke-width="0.25" font-weight="normal" textLength="13.80" lengthAdjust="spacingAndGlyphs" >40%</text>
<rect x="523.05" y="24.50" width="8.80" height="57.90" fill="#0a4a48" stroke="none" stroke-width="0.00"/>
<line x1="527.45" y1="18.50" x2="527.45" y2="30.50" stroke="#606060" stroke-width="0.70"/>
<line x1="525.45" y1="18.50" x2="529.45" y2="18.50" stroke="#606060" stroke-width="0.70"/>
<line x1="525.45" y1="30.50" x2="529.45" y2="30.50" stroke="#606060" stroke-width="0.70"/>
<text x="530.15" y="97.40" font-size="9.20" text-anchor="middle" fill="#222" stroke="#222" stroke-width="0.25" font-weight="normal" textLength="11.60" lengthAdjust="spacingAndGlyphs" >TFE</text>
<text x="527.85" y="108.30" font-size="9.20" text-anchor="middle" fill="#222" stroke="#222" stroke-width="0.25" font-weight="normal" textLength="13.80" lengthAdjust="spacingAndGlyphs" >50%</text>
<text transform="translate(379.40,44.80) rotate(-90)" font-size="8.4" text-anchor="middle" fill="#222" stroke="#222" stroke-width="0.2" textLength="34.00" lengthAdjust="spacingAndGlyphs">% &#945;-helix</text>
<line x1="37.60" y1="227.60" x2="37.60" y2="375.00" stroke="#000" stroke-width="2.00"/>
<line x1="36.60" y1="368.80" x2="239.50" y2="368.80" stroke="#000" stroke-width="2.00"/>
<line x1="32.60" y1="368.80" x2="37.60" y2="368.80" stroke="#000" stroke-width="2.00"/>
<text x="31.60" y="372.60" font-size="11.00" text-anchor="end" fill="#000" stroke="#000" stroke-width="0.25" font-weight="bold" textLength="4.90" lengthAdjust="spacingAndGlyphs" >0</text>
<line x1="32.60" y1="333.65" x2="37.60" y2="333.65" stroke="#000" stroke-width="2.00"/>
<text x="31.60" y="337.45" font-size="11.00" text-anchor="end" fill="#000" stroke="#000" stroke-width="0.25" font-weight="bold" textLength="9.80" lengthAdjust="spacingAndGlyphs" >20</text>
<line x1="32.60" y1="298.50" x2="37.60" y2="298.50" stroke="#000" stroke-width="2.00"/>
<text x="31.60" y="302.30" font-size="11.00" text-anchor="end" fill="#000" stroke="#000" stroke-width="0.25" font-weight="bold" textLength="9.80" lengthAdjust="spacingAndGlyphs" >40</text>
<line x1="32.60" y1="263.35" x2="37.60" y2="263.35" stroke="#000" stroke-width="2.00"/>
<text x="31.60" y="267.15" font-size="11.00" text-anchor="end" fill="#000" stroke="#000" stroke-width="0.25" font-weight="bold" textLength="9.80" lengthAdjust="spacingAndGlyphs" >60</text>
<line x1="32.60" y1="228.20" x2="37.60" y2="228.20" stroke="#000" stroke-width="2.00"/>
<text x="31.60" y="232.00" font-size="11.00" text-anchor="end" fill="#000" stroke="#000" stroke-width="0.25" font-weight="bold" textLength="9.80" lengthAdjust="spacingAndGlyphs" >80</text>
<line x1="37.60" y1="368.80" x2="37.60" y2="374.60" stroke="#000" stroke-width="2.00"/>
<text x="37.60" y="384.60" font-size="11.00" text-anchor="middle" fill="#000" stroke="#000" stroke-width="0.25" font-weight="bold" textLength="4.90" lengthAdjust="spacingAndGlyphs" >0</text>
<line x1="104.70" y1="368.80" x2="104.70" y2="374.60" stroke="#000" stroke-width="2.00"/>
<text x="104.70" y="384.60" font-size="11.00" text-anchor="middle" fill="#000" stroke="#000" stroke-width="0.25" font-weight="bold" textLength="10.00" lengthAdjust="spacingAndGlyphs" >20</text>
<line x1="171.80" y1="368.80" x2="171.80" y2="374.60" stroke="#000" stroke-width="2.00"/>
<text x="171.80" y="384.60" font-size="11.00" text-anchor="middle" fill="#000" stroke="#000" stroke-width="0.25" font-weight="bold" textLength="10.00" lengthAdjust="spacingAndGlyphs" >40</text>
<line x1="238.90" y1="368.80" x2="238.90" y2="374.60" stroke="#000" stroke-width="2.00"/>
<text x="238.90" y="384.60" font-size="11.00" text-anchor="middle" fill="#000" stroke="#000" stroke-width="0.25" font-weight="bold" textLength="10.00" lengthAdjust="spacingAndGlyphs" >60</text>
<text x="120.20" y="403.60" font-size="13.00" text-anchor="start" fill="#000" stroke="#000" stroke-width="0.25" font-weight="bold" textLength="22.00" lengthAdjust="spacingAndGlyphs" >TFE</text>
<text x="146.20" y="403.60" font-size="13.00" text-anchor="start" fill="#000" stroke="#000" stroke-width="0.25" font-weight="bold" textLength="11.20" lengthAdjust="spacingAndGlyphs" >%</text>
<text transform="translate(15.2,310.8) rotate(-90)" font-size="12" text-anchor="middle" fill="#000" textLength="51" lengthAdjust="spacingAndGlyphs">% &#945;-helix</text>
<path d="M37.60,345.56 C38.16,345.41 39.84,344.95 40.95,344.63 C42.07,344.32 43.19,343.99 44.31,343.65 C45.43,343.32 46.55,342.97 47.66,342.62 C48.78,342.27 49.90,341.90 51.02,341.53 C52.14,341.16 53.26,340.78 54.38,340.39 C55.49,340.00 56.61,339.60 57.73,339.19 C58.85,338.78 59.97,338.36 61.09,337.93 C62.20,337.50 63.32,337.06 64.44,336.61 C65.56,336.17 66.68,335.71 67.80,335.24 C68.91,334.77 70.03,334.29 71.15,333.81 C72.27,333.32 73.39,332.82 74.50,332.31 C75.62,331.81 76.74,331.29 77.86,330.76 C78.98,330.23 80.10,329.70 81.22,329.15 C82.33,328.61 83.45,328.05 84.57,327.48 C85.69,326.92 86.81,326.34 87.93,325.76 C89.04,325.18 90.16,324.58 91.28,323.98 C92.40,323.38 93.52,322.77 94.63,322.15 C95.75,321.54 96.87,320.91 97.99,320.27 C99.11,319.64 100.23,319.00 101.34,318.35 C102.46,317.70 103.58,317.04 104.70,316.38 C105.82,315.72 106.94,315.05 108.06,314.37 C109.17,313.70 110.29,313.01 111.41,312.33 C112.53,311.64 113.65,310.95 114.77,310.25 C115.88,309.56 117.00,308.85 118.12,308.15 C119.24,307.45 120.36,306.74 121.47,306.03 C122.59,305.32 123.71,304.60 124.83,303.89 C125.95,303.17 127.07,302.46 128.19,301.74 C129.30,301.02 130.42,300.30 131.54,299.58 C132.66,298.87 133.78,298.15 134.90,297.43 C136.01,296.71 137.13,295.99 138.25,295.28 C139.37,294.56 140.49,293.85 141.60,293.14 C142.72,292.43 143.84,291.72 144.96,291.02 C146.08,290.31 147.20,289.61 148.31,288.92 C149.43,288.22 150.55,287.53 151.67,286.84 C152.79,286.15 153.91,285.47 155.03,284.80 C156.14,284.12 157.26,283.45 158.38,282.79 C159.50,282.13 160.62,281.47 161.74,280.82 C162.85,280.17 163.97,279.53 165.09,278.89 C166.21,278.26 167.33,277.63 168.44,277.01 C169.56,276.40 170.68,275.79 171.80,275.19 C172.92,274.58 174.04,273.99 175.16,273.41 C176.27,272.82 177.39,272.25 178.51,271.68 C179.63,271.12 180.75,270.56 181.86,270.02 C182.98,269.47 184.10,268.93 185.22,268.41 C186.34,267.88 187.46,267.36 188.57,266.85 C189.69,266.35 190.81,265.85 191.93,265.36 C193.05,264.87 194.17,264.40 195.28,263.93 C196.40,263.46 197.52,263.00 198.64,262.55 C199.76,262.10 200.88,261.67 202.00,261.24 C203.11,260.81 204.79,260.19 205.35,259.98" fill="none" stroke="#f48a84" stroke-width="1.60" stroke-linejoin="round" stroke-linecap="round" />
<path d="M37.60,341.42 C38.16,341.25 39.84,340.75 40.95,340.40 C42.07,340.06 43.19,339.70 44.31,339.34 C45.43,338.98 46.55,338.61 47.66,338.23 C48.78,337.86 49.90,337.47 51.02,337.08 C52.14,336.70 53.26,336.30 54.38,335.89 C55.49,335.49 56.61,335.08 57.73,334.66 C58.85,334.24 59.97,333.82 61.09,333.38 C62.20,332.95 63.32,332.51 64.44,332.06 C65.56,331.62 66.68,331.16 67.80,330.70 C68.91,330.24 70.03,329.78 71.15,329.30 C72.27,328.83 73.39,328.34 74.50,327.86 C75.62,327.37 76.74,326.87 77.86,326.37 C78.98,325.87 80.10,325.36 81.22,324.85 C82.33,324.34 83.45,323.82 84.57,323.29 C85.69,322.77 86.81,322.23 87.93,321.70 C89.04,321.16 90.16,320.61 91.28,320.07 C92.40,319.52 93.52,318.96 94.63,318.40 C95.75,317.85 96.87,317.28 97.99,316.71 C99.11,316.14 100.23,315.57 101.34,314.99 C102.46,314.42 103.58,313.83 104.70,313.25 C105.82,312.66 106.94,312.08 108.06,311.48 C109.17,310.89 110.29,310.30 111.41,309.70 C112.53,309.10 113.65,308.50 114.77,307.90 C115.88,307.29 117.00,306.69 118.12,306.08 C119.24,305.47 120.36,304.86 121.47,304.26 C122.59,303.65 123.71,303.03 124.83,302.42 C125.95,301.81 127.07,301.20 128.19,300.59 C129.30,299.98 130.42,299.36 131.54,298.75 C132.66,298.14 133.78,297.53 134.90,296.92 C136.01,296.31 137.13,295.70 138.25,295.10 C139.37,294.49 140.49,293.88 141.60,293.28 C142.72,292.68 143.84,292.08 144.96,291.48 C146.08,290.88 147.20,290.29 148.31,289.69 C149.43,289.10 150.55,288.51 151.67,287.93 C152.79,287.34 153.91,286.76 155.03,286.18 C156.14,285.61 157.26,285.03 158.38,284.46 C159.50,283.90 160.62,283.33 161.74,282.77 C162.85,282.21 163.97,281.66 165.09,281.11 C166.21,280.56 167.33,280.02 168.44,279.48 C169.56,278.94 170.68,278.41 171.80,277.89 C172.92,277.36 174.04,276.84 175.16,276.33 C176.27,275.81 177.39,275.30 178.51,274.80 C179.63,274.30 180.75,273.81 181.86,273.32 C182.98,272.83 184.10,272.35 185.22,271.88 C186.34,271.40 187.46,270.93 188.57,270.47 C189.69,270.01 190.81,269.56 191.93,269.11 C193.05,268.67 194.17,268.23 195.28,267.79 C196.40,267.36 197.52,266.93 198.64,266.52 C199.76,266.10 200.88,265.69 202.00,265.28 C203.11,264.88 204.79,264.29 205.35,264.09" fill="none" stroke="#0a8a22" stroke-width="2.60" stroke-linejoin="round" stroke-linecap="round" />
<rect x="34.90" y="355.60" width="5.60" height="5.60" fill="#f48a84" stroke="none" stroke-width="0.00"/>
<rect x="68.20" y="340.80" width="5.60" height="5.60" fill="#f48a84" stroke="none" stroke-width="0.00"/>
<rect x="101.50" y="305.50" width="5.60" height="5.60" fill="#f48a84" stroke="none" stroke-width="0.00"/>
<rect x="135.20" y="288.20" width="5.60" height="5.60" fill="#f48a84" stroke="none" stroke-width="0.00"/>
<rect x="168.60" y="272.60" width="5.60" height="5.60" fill="#f48a84" stroke="none" stroke-width="0.00"/>
<rect x="202.10" y="269.20" width="5.60" height="5.60" fill="#f48a84" stroke="none" stroke-width="0.00"/>
<circle cx="37.70" cy="354.80" r="2.9" fill="#0a8a22"/>
<circle cx="71.00" cy="337.60" r="2.9" fill="#0a8a22"/>
<circle cx="104.30" cy="306.20" r="2.9" fill="#0a8a22"/>
<circle cx="138.00" cy="285.40" r="2.9" fill="#0a8a22"/>
<circle cx="171.40" cy="277.80" r="2.9" fill="#0a8a22"/>
<circle cx="204.90" cy="279.40" r="2.9" fill="#0a8a22"/>
<line x1="144.40" y1="325.40" x2="160.40" y2="325.40" stroke="#0a8a22" stroke-width="2.00"/>
<circle cx="152.4" cy="325.4" r="2.7" fill="#0a8a22"/>
<text x="168.30" y="329.80" font-size="11.80" text-anchor="start" fill="#111" stroke="#111" stroke-width="0.25" font-weight="normal" textLength="63.50" lengthAdjust="spacingAndGlyphs" >HvABA-WDS</text>
<line x1="144.40" y1="342.40" x2="160.40" y2="342.40" stroke="#f48a84" stroke-width="2.00"/>
<rect x="149.60" y="339.60" width="5.60" height="5.60" fill="#f48a84" stroke="none" stroke-width="0.00"/>
<text x="168.30" y="346.40" font-size="11.80" text-anchor="start" fill="#111" stroke="#111" stroke-width="0.25" font-weight="normal" textLength="56.20" lengthAdjust="spacingAndGlyphs" >TtABA-WDS</text>
<line x1="354.60" y1="247.60" x2="541.40" y2="247.60" stroke="#3a3a3a" stroke-width="1.00"/>
<line x1="354.60" y1="247.60" x2="354.60" y2="348.20" stroke="#3a3a3a" stroke-width="1.00"/>
<line x1="445.00" y1="247.60" x2="445.00" y2="348.20" stroke="#3a3a3a" stroke-width="1.00"/>
<line x1="541.40" y1="247.60" x2="541.40" y2="348.20" stroke="#3a3a3a" stroke-width="1.00"/>
<line x1="244.60" y1="273.40" x2="541.40" y2="273.40" stroke="#3a3a3a" stroke-width="1.00"/>
<line x1="244.60" y1="301.50" x2="541.40" y2="301.50" stroke="#3a3a3a" stroke-width="1.00"/>
<line x1="244.60" y1="325.80" x2="541.40" y2="325.80" stroke="#3a3a3a" stroke-width="1.00"/>
<line x1="244.60" y1="348.20" x2="541.40" y2="348.20" stroke="#3a3a3a" stroke-width="1.00"/>
<line x1="244.60" y1="273.40" x2="244.60" y2="348.20" stroke="#3a3a3a" stroke-width="1.00"/>
<text x="363.50" y="264.80" font-size="12.20" text-anchor="start" fill="#e5484d" stroke="#e5484d" stroke-width="0.25" font-weight="bold" textLength="62.80" lengthAdjust="spacingAndGlyphs" >TtABA-WDS</text>
<text x="453.30" y="264.80" font-size="12.20" text-anchor="start" fill="#138a1a" stroke="#138a1a" stroke-width="0.25" font-weight="bold" textLength="66.60" lengthAdjust="spacingAndGlyphs" >HvABA-WDS</text>
<text x="252.80" y="291.20" font-size="12.00" text-anchor="start" fill="#111" stroke="#111" stroke-width="0.12" font-weight="normal" textLength="67.80" lengthAdjust="spacingAndGlyphs" >Midpoint (%)</text>
<text x="363.50" y="291.90" font-size="12.00" text-anchor="start" fill="#e5484d" stroke="#e5484d" stroke-width="0.12" font-weight="normal" textLength="50.50" lengthAdjust="spacingAndGlyphs" >27.7 &#177; 2.6</text>
<text x="453.30" y="291.90" font-size="12.00" text-anchor="start" fill="#138a1a" stroke="#138a1a" stroke-width="0.12" font-weight="normal" textLength="50.50" lengthAdjust="spacingAndGlyphs" >27.2 &#177; 3.3</text>
<text x="253.3" y="318.9" font-size="12" fill="#111" stroke="#111" stroke-width="0.12"><tspan font-style="italic">m</tspan> (kcal mol<tspan font-size="7" dy="-4.5">-1</tspan><tspan dy="4.5"> M</tspan><tspan font-size="7" dy="-4.5">-1</tspan><tspan dy="4.5">)</tspan></text>
<text x="363.50" y="318.90" font-size="12.00" text-anchor="start" fill="#e5484d" stroke="#e5484d" stroke-width="0.12" font-weight="normal" textLength="70.50" lengthAdjust="spacingAndGlyphs" >0.049 &#177; 0.010</text>
<text x="453.30" y="318.90" font-size="12.00" text-anchor="start" fill="#138a1a" stroke="#138a1a" stroke-width="0.12" font-weight="normal" textLength="70.50" lengthAdjust="spacingAndGlyphs" >0.042 &#177; 0.010</text>
<text x="252.90" y="342.50" font-size="12.00" text-anchor="start" fill="#111" stroke="#111" stroke-width="0.12" font-weight="normal" textLength="7.40" lengthAdjust="spacingAndGlyphs" >R</text>
<text x="261.00" y="338.00" font-size="7.00" text-anchor="start" fill="#111" stroke="#111" stroke-width="0.12" font-weight="normal" textLength="3.60" lengthAdjust="spacingAndGlyphs" >2</text>
<text x="363.50" y="342.50" font-size="12.00" text-anchor="start" fill="#e5484d" stroke="#e5484d" stroke-width="0.12" font-weight="normal" textLength="21.50" lengthAdjust="spacingAndGlyphs" >0.93</text>
<text x="453.30" y="342.50" font-size="12.00" text-anchor="start" fill="#138a1a" stroke="#138a1a" stroke-width="0.12" font-weight="normal" textLength="21.50" lengthAdjust="spacingAndGlyphs" >0.89</text>
</svg></body></html>
